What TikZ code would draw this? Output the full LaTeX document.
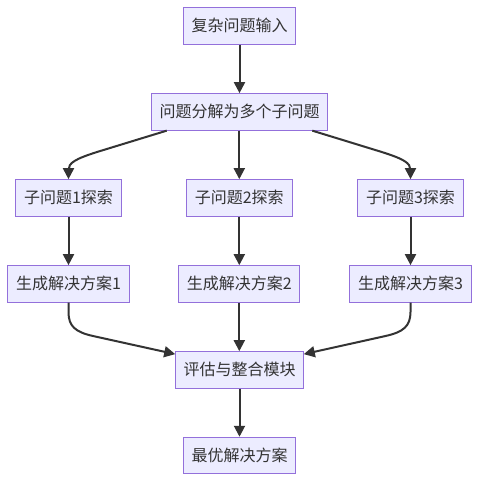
\documentclass[tikz,border=0pt]{standalone}
\usepackage{fontspec}
\setmainfont{Noto Sans CJK SC}
\usetikzlibrary{arrows.meta,calc}
\definecolor{nodefill}{HTML}{ECECFF}
\definecolor{nodeborder}{HTML}{9370DB}
\definecolor{edgec}{HTML}{333333}
\begin{document}
\begin{tikzpicture}[x=1pt,y=-1pt,
  box/.style={draw=nodeborder,fill=nodefill,line width=1pt,inner sep=0pt,
    minimum height=36.5pt,font=\fontsize{16}{16}\selectfont,text=edgec},
  edge/.style={draw=edgec,line width=2pt,-{Triangle[length=11pt,width=11pt]}}]
\path[fill=white,use as bounding box] (0,0) rectangle (479,482);

\node[box,minimum width=111.6pt] (n1) at (239.5,25.8) {复杂问题输入};
\node[box,minimum width=175.6pt] (n2) at (239.5,111.9) {问题分解为多个子问题};
\node[box,minimum width=105.7pt] (s1) at (68.5,197.9) {子问题1探索};
\node[box,minimum width=106pt] (s2) at (239.3,197.9) {子问题2探索};
\node[box,minimum width=105.6pt] (s3) at (410.5,197.9) {子问题3探索};
\node[box,minimum width=121.3pt] (g1) at (68.5,283.9) {生成解决方案1};
\node[box,minimum width=121.3pt] (g2) at (239.3,283.9) {生成解决方案2};
\node[box,minimum width=121.6pt] (g3) at (410.5,283.9) {生成解决方案3};
\node[box,minimum width=127.6pt] (e) at (239.5,369.9) {评估与整合模块};
\node[box,minimum width=111.6pt] (f) at (239.5,455.5) {最优解决方案};

\coordinate (n2l) at ($(n2.south west)+(15.5,0)$);
\coordinate (n2r) at ($(n2.south east)+(-15.5,0)$);
\coordinate (eL) at ($(e.north west)+(0,3)$);
\coordinate (eR) at ($(e.north east)+(0,3)$);

\draw[edge] (n1) -- (n2);
\draw[edge] (n2l) -- (97,152) .. controls (75,159) and (68.5,163) .. (68.5,170) -- (s1.north);
\draw[edge] (n2.south -| s2.north) -- (s2.north);
\draw[edge] (n2r) -- (381.8,152) .. controls (403.8,159) and (410.5,163) .. (410.5,170) -- (s3.north);

\draw[edge] (s1) -- (g1);
\draw[edge] (s2) -- (g2);
\draw[edge] (s3) -- (g3);

\draw[edge] (g1.south) -- (68.5,312) .. controls (68.5,326) and (75,332) .. (93,336) -- (eL);
\draw[edge] (g2) -- (e.north -| g2.south);
\draw[edge] (g3.south) -- (410.5,312) .. controls (410.5,326) and (403.5,332) .. (385.5,336) -- (eR);

\draw[edge] (e) -- (f);
\end{tikzpicture}
\end{document}
